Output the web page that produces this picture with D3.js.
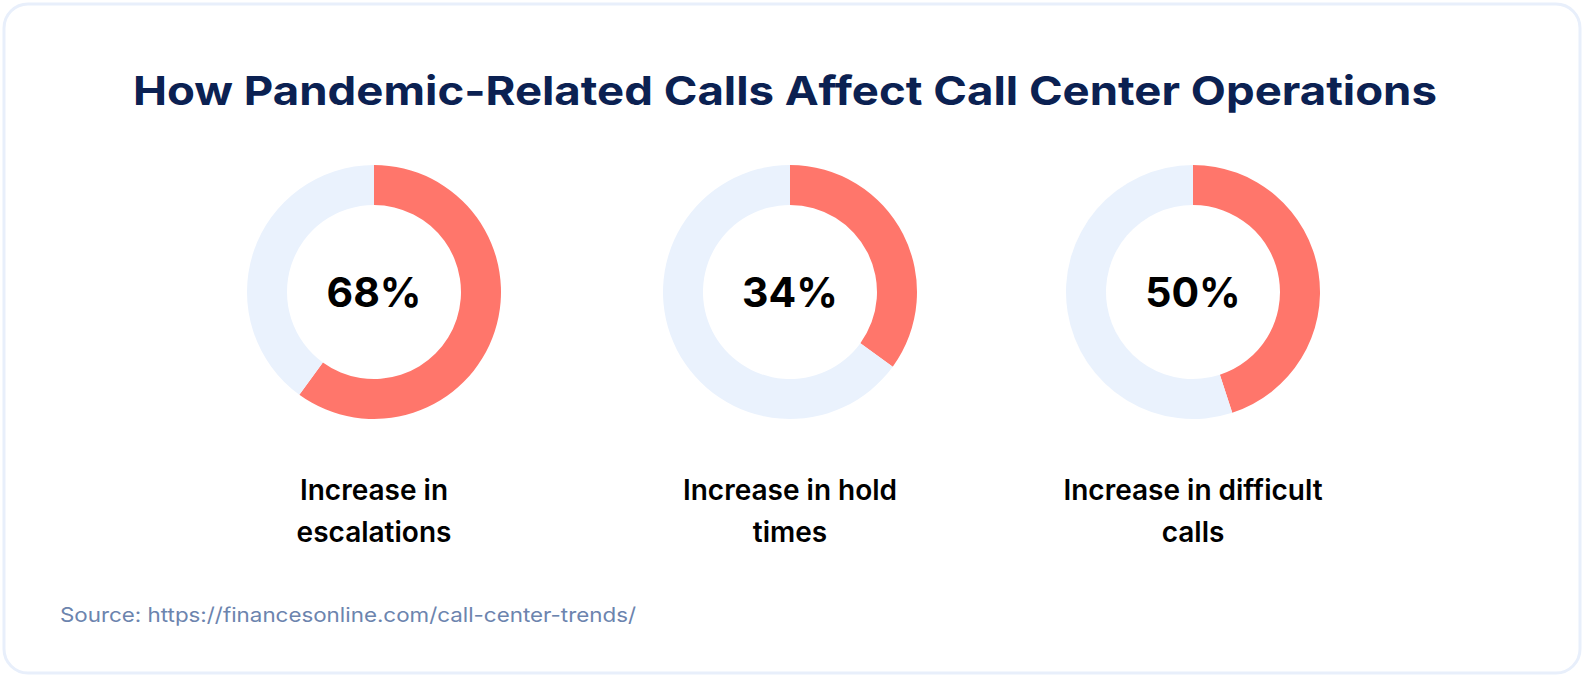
<!DOCTYPE html>
<html><head><meta charset="utf-8">
<script src="https://cdn.jsdelivr.net/npm/d3@7"></script>
<style>body{margin:0;background:#fff}svg{display:block}</style>
</head><body>
<svg id="c" width="1584" height="677"></svg>
<script>
const categories = ["Increase in|escalations", "Increase in hold|times", "Increase in difficult|calls"];
const percentLabels = ["68%", "34%", "50%"];
const arcShares = [0.60, 0.35, 0.45]; // as drawn in the reference
const title = "How Pandemic-Related Calls Affect Call Center Operations";
const source = "Source: https://financesonline.com/call-center-trends/";

const svg = d3.select("#c");
const font = "Inter, 'Open Sans', sans-serif";
svg.append("rect").attr("x",4).attr("y",4).attr("width",1576).attr("height",669)
  .attr("rx",24).attr("fill","#fff").attr("stroke","#E8EFFB").attr("stroke-width",3);
svg.append("text").attr("x",785).attr("y",105).attr("text-anchor","middle")
  .attr("font-family",font).attr("font-weight",700).attr("font-size",40)
  .attr("textLength",1304).attr("lengthAdjust","spacingAndGlyphs")
  .attr("fill","#0B2152").text(title);

const x = d3.scaleOrdinal().domain(d3.range(categories.length)).range([374,790,1193]);
const arc = d3.arc().innerRadius(87).outerRadius(127);
const pie = d3.pie().sort(null).value(d=>d);
categories.forEach((c,i)=>{
  const g = svg.append("g").attr("transform",`translate(${x(i)},292)`);
  g.selectAll("path").data(pie([arcShares[i],1-arcShares[i]])).join("path")
    .attr("d",arc).attr("fill",(d,j)=>j==0?"#FF766B":"#EAF2FD");
  g.append("text").attr("text-anchor","middle").attr("dy",15)
    .attr("font-family",font).attr("font-weight",700).attr("font-size",41)
    .attr("fill","#000").text(percentLabels[i]);
  c.split("|").forEach((l,k)=>{
    g.append("text").attr("text-anchor","middle").attr("y",208+k*42)
      .attr("font-family",font).attr("font-weight",600).attr("font-size",28)
      .attr("fill","#000").text(l);
  });
});
svg.append("text").attr("x",60).attr("y",622).attr("font-family",font)
  .attr("font-size",20).attr("textLength",576).attr("lengthAdjust","spacingAndGlyphs")
  .attr("fill","#6C84AE").text(source);
</script>
</body></html>
